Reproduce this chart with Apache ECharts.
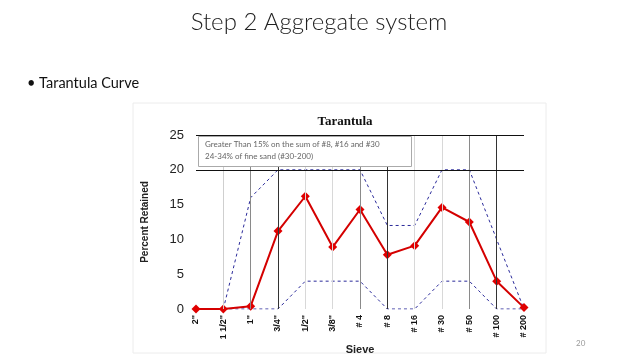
<!DOCTYPE html>
<html>
<head>
<meta charset="utf-8">
<script src="https://cdn.jsdelivr.net/npm/echarts@6/dist/echarts.min.js"></script>
<style>html,body{margin:0;padding:0;background:#fff;}#c{width:638px;height:359px;}</style>
</head>
<body>
<div id="c"></div>
<script>
var sieves = ['2"', '1 1/2"', '1"', '3/4"', '1/2"', '3/8"', '# 4', '# 8', '# 16', '# 30', '# 50', '# 100', '# 200'];
var retained = [0, 0, 0.4, 11.2, 16.2, 8.9, 14.3, 7.8, 9.1, 14.6, 12.5, 4.0, 0.2];
var upperLimit = [null, 0, 16, 20, 20, 20, 20, 12, 12, 20, 20, 10, 0];
var lowerLimit = [null, 0, 0, 0, 4, 4, 4, 0, 0, 4, 4, 0, 0];
var yTicks = [0, 5, 10, 15, 20, 25];
var limitLines = [20, 25];
var dropLines = [
  ['1 1/2"', '#cfcfcf'], ['1"', '#8a8a8a'], ['3/4"', '#333333'], ['1/2"', '#d8d8d8'],
  ['3/8"', '#d8d8d8'], ['# 4', '#8a8a8a'], ['# 8', '#333333'], ['# 16', '#d8d8d8'],
  ['# 30', '#d8d8d8'], ['# 50', '#8a8a8a'], ['# 100', '#333333']
];

var chart = echarts.init(document.getElementById('c'), null, {renderer: 'canvas'});
chart.setOption({
  animation: false,
  backgroundColor: '#ffffff',
  title: {
    text: 'Tarantula', left: 340, top: 110, textAlign: 'center',
    textStyle: {fontFamily: 'Liberation Serif', fontWeight: 'bold', fontSize: 13, color: '#111'}
  },
  grid: {left: 196, right: 114, top: 135, bottom: 50},
  xAxis: {
    type: 'category', data: sieves, boundaryGap: false,
    name: 'Sieve', nameLocation: 'middle', nameGap: 35,
    nameTextStyle: {fontFamily: 'Liberation Sans', fontWeight: 'bold', fontSize: 11, color: '#222'},
    axisLine: {show: false}, axisTick: {show: false}, splitLine: {show: false},
    axisLabel: {rotate: 90, margin: 6, fontFamily: 'Liberation Sans', fontWeight: 'bold', fontSize: 9, color: '#111'}
  },
  yAxis: {
    type: 'value', min: 0, max: 25, interval: 5,
    name: 'Percent Retained', nameLocation: 'middle', nameGap: 46, nameRotate: 90,
    nameTextStyle: {fontFamily: 'Liberation Sans', fontWeight: 'bold', fontSize: 10, color: '#222'},
    axisLine: {show: false}, axisTick: {show: false}, splitLine: {show: false},
    axisLabel: {margin: 12, fontFamily: 'Liberation Sans', fontSize: 13, color: '#222'}
  },
  series: [
    {
      type: 'line', data: sieves.map(function(){return null;}), z: 1, silent: true,
      markLine: {
        silent: true, symbol: 'none', label: {show: false}, animation: false,
        data: dropLines.map(function(d){ return {xAxis: d[0], lineStyle: {color: d[1], width: 1, type: 'solid'}}; })
          .concat(limitLines.map(function(v){ return {yAxis: v, lineStyle: {color: '#111', width: 1, type: 'solid'}}; }))
      }
    },
    {
      type: 'line', data: upperLimit, z: 2, symbol: 'none', connectNulls: false,
      lineStyle: {color: '#2a2a9a', width: 1, type: [3, 3]}
    },
    {
      type: 'line', data: lowerLimit, z: 2, symbol: 'none',
      lineStyle: {color: '#2a2a9a', width: 1, type: [3, 3]}
    },
    {
      type: 'line', data: retained, z: 3, symbol: 'diamond', symbolSize: 9,
      itemStyle: {color: '#e00000'}, lineStyle: {color: '#d40000', width: 2}
    }
  ],
  graphic: [
    {type: 'rect', z: -10, shape: {x: 133, y: 103, width: 413, height: 250}, style: {fill: 'none', stroke: '#ececec', lineWidth: 1}},
    {type: 'text', left: 'center', top: 10, style: {text: 'Step 2 Aggregate system', font: '300 24px Lato', fill: '#222'}},
    {type: 'text', x: 27, y: 76, style: {text: '\u2022 Tarantula Curve', font: '14.5px Lato', fill: '#111'}},
    {type: 'text', x: 576, y: 339, style: {text: '20', font: '8px Lato', fill: '#999'}},
    {type: 'rect', z: 100, shape: {x: 198.5, y: 136.5, width: 213, height: 30}, style: {fill: '#fff', stroke: '#aaa', lineWidth: 1}},
    {type: 'text', z: 101, x: 205, y: 140, style: {text: 'Greater Than 15% on the sum of #8, #16 and #30', font: '8px Lato', fill: '#666'}},
    {type: 'text', z: 101, x: 205, y: 152, style: {text: '24-34% of fine sand (#30-200)', font: '8px Lato', fill: '#666'}}
  ]
});
</script>
</body>
</html>
